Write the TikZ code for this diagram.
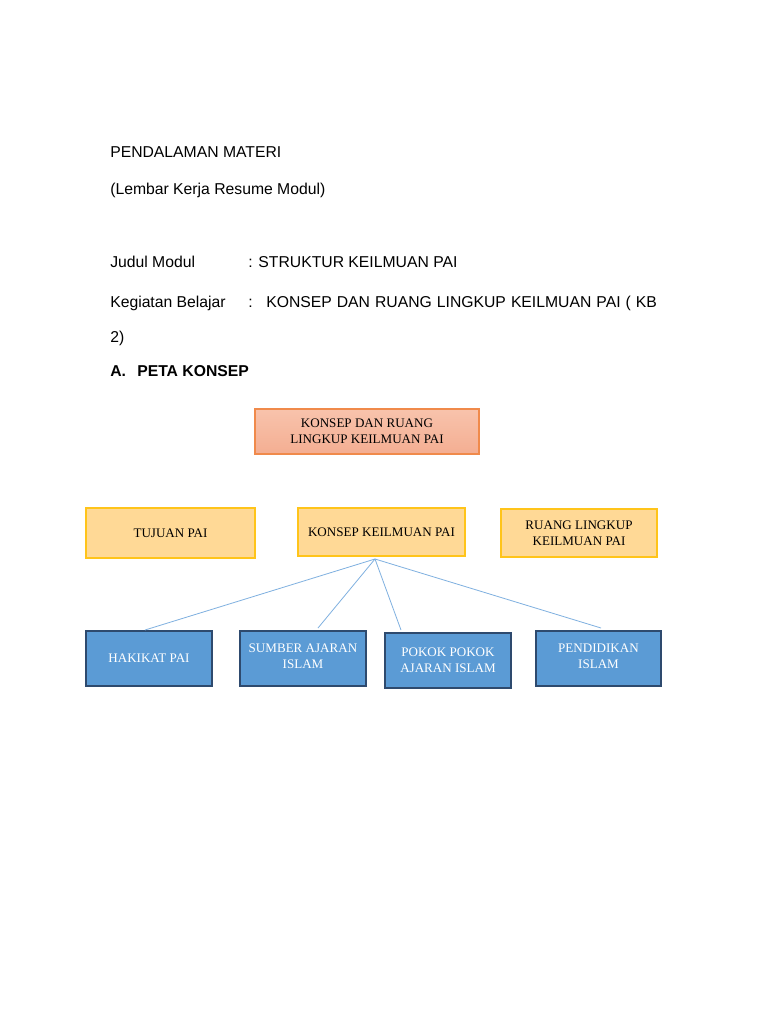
\documentclass[tikz,border=0pt]{standalone}
\usepackage{fontspec}
\setmainfont{Liberation Sans}
\newfontfamily\boxfont{Liberation Serif}
\definecolor{topfillA}{HTML}{F8C3AC}
\definecolor{topfillB}{HTML}{F4AE92}
\definecolor{topdraw}{HTML}{F08A4B}
\definecolor{yfill}{HTML}{FFD996}
\definecolor{ydraw}{HTML}{FFC41A}
\definecolor{bfill}{HTML}{5B9BD5}
\definecolor{bdraw}{HTML}{2E4A6E}
\definecolor{cline}{HTML}{7FB0E0}
\begin{document}
\begin{tikzpicture}[x=0.75pt,y=-0.75pt,
  txt/.style={anchor=west,inner sep=0pt,font=\fontsize{11.8pt}{14pt}\selectfont},
  boxtxt/.style={font=\boxfont\fontsize{9.8pt}{12pt}\selectfont},
  topbox/.style={boxtxt,draw=topdraw,line width=0.8pt,top color=topfillA,bottom color=topfillB,align=center,inner sep=0pt},
  ybox/.style={boxtxt,draw=ydraw,fill=yfill,line width=0.8pt,align=center,inner sep=0pt},
  bbox/.style={boxtxt,draw=bdraw,fill=bfill,line width=0.8pt,align=center,text=white,inner sep=0pt},
  btxt/.style={boxtxt,anchor=north,inner sep=0pt,align=center,text=white},
  conn/.style={draw=cline,line width=0.6pt}]
\useasboundingbox (0,0) rectangle (768,1024);
\fill[white] (0,0) rectangle (768,1024);
% header text
\node[txt] (t1) at (110,152) {PENDALAMAN MATERI};
\node[txt] (t2) at (110,190) {(Lembar Kerja Resume Modul)};
\node[txt] (t3) at (110,262) {Judul Modul};
\node[txt] (t4) at (248,262) {: STRUKTUR KEILMUAN PAI};
\node[txt] (t5) at (110,303) {Kegiatan Belajar};
\node[txt] (t6) at (248,303) {:};
\node[txt] (t7) at (266,303) {\hbox to 293pt{KONSEP\hfill DAN\hfill RUANG\hfill LINGKUP\hfill KEILMUAN\hfill PAI\hfill (\hfill KB}};
\node[txt] (t8) at (110,338) {2)};
\node[txt,font=\fontsize{11.8pt}{14pt}\selectfont\bfseries] (t9) at (110,371) {A.};
\node[txt,font=\fontsize{11.8pt}{14pt}\selectfont\bfseries] (t10) at (137,371) {PETA KONSEP};
% boxes
\node[topbox,minimum width=168pt,minimum height=33.75pt] (top) at (367,431.5) {KONSEP DAN RUANG\\LINGKUP KEILMUAN PAI};
\node[ybox,minimum width=126.75pt,minimum height=37.5pt] (tuj) at (170.5,533) {TUJUAN PAI};
\node[ybox,minimum width=125.25pt,minimum height=36pt] (kon) at (381.5,532) {KONSEP KEILMUAN PAI};
\node[ybox,minimum width=117pt,minimum height=36pt] (rua) at (579,533) {RUANG LINGKUP\\KEILMUAN PAI};
\node[bbox,minimum width=94.5pt,minimum height=41.25pt] (hak) at (149,658.5) {HAKIKAT PAI};
\node[bbox,minimum width=94.5pt,minimum height=41.25pt] (sum) at (303,658.5) {};
\node[btxt] (sumt) at (303,644) {SUMBER AJARAN\\ISLAM};
\node[bbox,minimum width=94.5pt,minimum height=41.25pt] (pok) at (448,660.5) {POKOK POKOK\\AJARAN ISLAM};
\node[bbox,minimum width=93.75pt,minimum height=41.25pt] (pen) at (598.5,658.5) {};
\node[btxt] (pent) at (598.5,644) {PENDIDIKAN\\ISLAM};
% connectors
\coordinate (hub) at (375,559);
\coordinate (e1) at (145,630);
\coordinate (e2) at (318,628);
\coordinate (e3) at (401,630);
\coordinate (e4) at (601,628);
\draw[conn] (hub) -- (e1);
\draw[conn] (hub) -- (e2);
\draw[conn] (hub) -- (e3);
\draw[conn] (hub) -- (e4);
\end{tikzpicture}
\end{document}
